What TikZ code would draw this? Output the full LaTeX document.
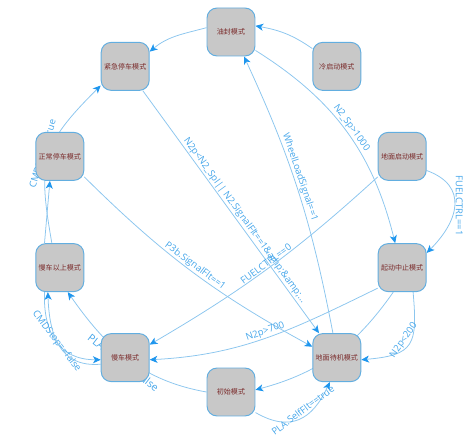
\documentclass[tikz,border=0pt]{standalone}
\usepackage{fontspec}
\setmainfont{Open Sans}
\newfontfamily\cjk{Noto Sans CJK SC}
\usepackage{xcolor}
\definecolor{edgeblue}{HTML}{8CC6EE}
\definecolor{tipblue}{HTML}{1E96EE}
\definecolor{labblue}{HTML}{45A6EA}
\definecolor{boxgray}{HTML}{C8C8C8}
\definecolor{boxblue}{HTML}{62AEE0}
\definecolor{boxred}{HTML}{7A2A2A}
\usepackage{tikz}
\usetikzlibrary{arrows.meta,backgrounds}

\begin{document}
\begin{tikzpicture}[x=0.05cm,y=0.05cm,
  box/.style={draw=boxblue,fill=boxgray,rounded corners=0.5cm,line width=1.4pt,
    minimum width=2.4cm,minimum height=2.4cm,inner sep=0pt,
    font=\cjk\fontsize{10}{12}\selectfont,text=boxred},
  lab/.style={font=\fontsize{13.5}{15}\selectfont,text=labblue,inner sep=1.5pt},
  arr/.style={-{Stealth[length=11pt,width=10pt,inset=3pt,color=tipblue]},line width=1.1pt,color=edgeblue}]
\useasboundingbox (-231,-226) rectangle (243,212);
\node[box] (ys) at (90:180) {油封模式};
\node[box] (lq) at (54:180) {冷启动模式};
\node[box] (dq) at (18:180) {地面启动模式};
\node[box] (zz) at (-18:180) {起动中止模式};
\node[box] (dd) at (-54:180) {地面待机模式};
\node[box] (cs) at (-90:180) {初始模式};
\node[box] (mc) at (-126:180) {慢车模式};
\node[box] (ms) at (-162:180) {慢车以上模式};
\node[box] (zc) at (162:180) {正常停车模式};
\node[box] (jj) at (126:180) {紧急停车模式};
\begin{scope}[on background layer]
\draw[arr] (ys.170) to[out=195,in=40] (jj.31);
\draw[arr] (lq.144) to[out=145,in=-10] (ys.14);
\draw[arr] (ms.108) to[out=100,in=225,looseness=1.3] node[lab,sloped,above,inner sep=0.5pt]{CMDStop==true} (jj.218);
\draw[arr] (ms.122) -- (zc.248);
\draw[arr] (zc.-40) to[bend right=8] node[lab,sloped,above]{P3b.SignalFlt==1} (dd.156);
\draw[arr] (jj) -- node[lab,sloped,above,pos=0.55]{N2p<N2\_Spl|| N2.SignalFlt==1\&amp;\&amp;...} (dd);
\draw[arr] (dd.99) to[bend right=7] node[lab,sloped,above,pos=0.55]{WheelLoadSignal==1} (ys.-62);
\draw[arr] (ys.-37) to[bend left=22] node[lab,sloped,above]{N2\_Sp>1000} (zz.106);
\draw[arr] (dq.-140) to[bend left=6] node[lab,sloped,above]{FUELCTRL==0} (mc.28);
\draw[arr] (dq.-30) to[out=-20,in=45,looseness=1.4] node[lab,rotate=-90,anchor=south]{FUELCTRL==1} (zz.31);
\draw[arr] (zz.-66) to[out=-85,in=5,looseness=1.6] node[lab,sloped,above]{N2p<200} (dd.-5);
\draw[arr] (zz.250) to[out=-125,in=15] (cs.5);
\draw[arr] (cs.-40) to[out=-30,in=-115,looseness=1.3] node[lab,sloped,above=1pt,pos=0.6]{PLA.SelfFlt==true} (dd.-106);
\draw[arr] (cs.west) to[out=170,in=-55] node[lab,sloped,below,font=\fontsize{15}{17}\selectfont]{PLA.SelfFlt==false} (ms.-72);
\draw[arr] (zz.-140) to[out=206,in=3] node[lab,sloped,above]{N2p>700} (mc.-5);
\draw[arr] (ms.-122) to[out=-92,in=180,looseness=1.2] node[lab,sloped]{CMDStop==false} (mc.185);
\draw[arr] (mc.195) to[out=185,in=-88,looseness=1.2] (ms.-116);
\end{scope}
\end{tikzpicture}
\end{document}
